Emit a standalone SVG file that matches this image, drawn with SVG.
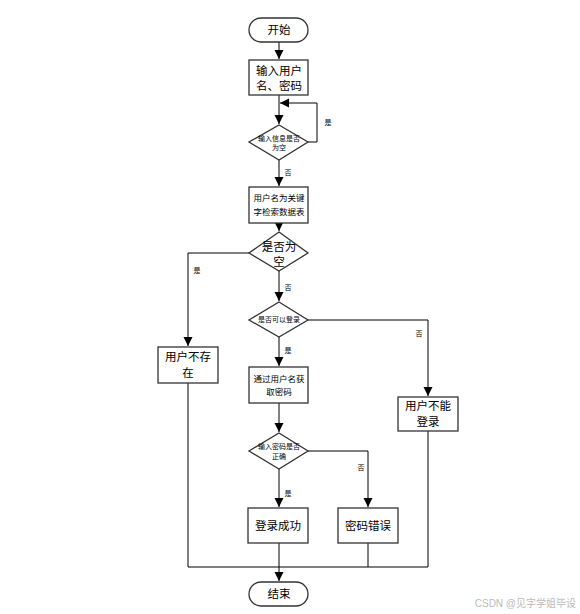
<svg xmlns="http://www.w3.org/2000/svg" width="580" height="614" viewBox="0 0 580 614">
<defs>
<marker id="ah" markerWidth="10" markerHeight="10" refX="9" refY="5" orient="auto" markerUnits="userSpaceOnUse">
<path d="M0,0.5 L9,5 L0,9.5 Z" fill="#000"/>
</marker>
</defs>
<style>
.n{fill:#fff;stroke:#333;stroke-width:1.3}
.t{font-family:"Liberation Sans","Noto Sans CJK SC",sans-serif;font-size:11.5px;fill:#000;text-anchor:middle}
.s{font-family:"Liberation Sans","Noto Sans CJK SC",sans-serif;font-size:7px;fill:#000;text-anchor:middle}
.c{fill:none;stroke:#000;stroke-width:1}
</style>
<rect width="580" height="614" fill="#fff"/>
<g id="connectors">
<path class="c" d="M279,42 V59" marker-end="url(#ah)"/>
<path class="c" d="M279,95 V124" marker-end="url(#ah)"/>
<path class="c" d="M308,142 H317 V103 H280" marker-end="url(#ah)"/>
<path class="c" d="M279,160 V186" marker-end="url(#ah)"/>
<path class="c" d="M279,223 V231" marker-end="url(#ah)"/>
<path class="c" d="M249,253 H188 V346" marker-end="url(#ah)"/>
<path class="c" d="M279,271 V301" marker-end="url(#ah)"/>
<path class="c" d="M308,320 H428 V396" marker-end="url(#ah)"/>
<path class="c" d="M279,337 V366" marker-end="url(#ah)"/>
<path class="c" d="M279,403 V432" marker-end="url(#ah)"/>
<path class="c" d="M308,451 H368 V507" marker-end="url(#ah)"/>
<path class="c" d="M279,469 V507" marker-end="url(#ah)"/>
<path class="c" d="M188,383 V567 H428 V431"/>
<path class="c" d="M368,543 V567"/>
<path class="c" d="M279,543 V581" marker-end="url(#ah)"/>
<text class="s" x="328" y="125">是</text>
<text class="s" x="288" y="175">否</text>
<text class="s" x="197" y="273">是</text>
<text class="s" x="288" y="290">否</text>
<text class="s" x="419" y="336">否</text>
<text class="s" x="288" y="353">是</text>
<text class="s" x="361" y="470">否</text>
<text class="s" x="288" y="496">是</text>
</g>
<g id="start"><rect class="n" x="249" y="18" width="59" height="24" rx="12"/><text class="t" x="279" y="34">开始</text></g>
<g id="input"><rect class="n" x="249" y="60" width="59" height="35"/><text class="t" x="279" y="75">输入用户</text><text class="t" x="279" y="90">名、密码</text></g>
<g id="d1"><polygon class="n" points="279,125 308,142 279,160 249,142"/><text class="s" x="279" y="141">输入信息是否</text><text class="s" x="279" y="150">为空</text></g>
<g id="search"><rect class="n" x="249" y="187" width="59" height="36"/><text class="s" style="font-size:8.5px" x="279" y="201">用户名为关键</text><text class="s" style="font-size:8.5px" x="279" y="215">字检索数据表</text></g>
<g id="d2"><polygon class="n" points="279,232 308,253 279,271 249,253"/><text class="t" x="279" y="251">是否为</text><text class="t" x="279" y="266">空</text></g>
<g id="notexist"><rect class="n" x="158" y="347" width="60" height="36"/><text class="t" x="188" y="361">用户不存</text><text class="t" x="188" y="377">在</text></g>
<g id="d3"><polygon class="n" points="279,302 308,320 279,337 249,320"/><text class="s" x="279" y="322">是否可以登录</text></g>
<g id="getpwd"><rect class="n" x="249" y="367" width="59" height="36"/><text class="s" style="font-size:8.5px" x="279" y="382">通过用户名获</text><text class="s" style="font-size:8.5px" x="279" y="395">取密码</text></g>
<g id="cannot"><rect class="n" x="398" y="397" width="60" height="34"/><text class="t" x="428" y="410">用户不能</text><text class="t" x="428" y="426">登录</text></g>
<g id="d4"><polygon class="n" points="279,433 308,451 279,469 249,451"/><text class="s" x="279" y="449">输入密码是否</text><text class="s" x="279" y="459">正确</text></g>
<g id="success"><rect class="n" x="248" y="508" width="60" height="35"/><text class="t" x="278" y="530">登录成功</text></g>
<g id="wrong"><rect class="n" x="338" y="508" width="60" height="35"/><text class="t" x="368" y="530">密码错误</text></g>
<g id="end"><rect class="n" x="249" y="582" width="59" height="24" rx="12"/><text class="t" x="279" y="598">结束</text></g>
<text x="576" y="607" style="font-family:'Liberation Sans','Noto Sans CJK SC',sans-serif;font-size:10px;fill:#bbb;text-anchor:end">CSDN @见字学姐毕设</text>
</svg>
